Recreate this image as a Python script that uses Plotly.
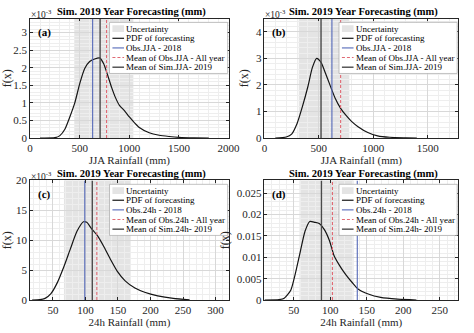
import numpy as np
import plotly.graph_objects as go

W, H = 474, 333

# ---------------- data ----------------
# (a) JJA rainfall: forecast PDF (density values in units of 1e-3)
jja_a_x = [100, 250, 300, 350, 400, 450, 500, 550, 600, 650, 700, 740, 780, 820,
           860, 900, 950, 1000, 1050, 1100, 1200, 1300, 1400, 1500, 1650, 1800]
jja_a_pdf = [0, 0.01, 0.07, 0.25, 0.6, 1.0, 1.55, 1.98, 2.18, 2.25, 2.28, 2.12, 1.8, 1.45,
             1.15, 0.93, 0.78, 0.6, 0.44, 0.3, 0.15, 0.08, 0.045, 0.02, 0.005, 0]
jja_a_band = [445, 1040]
jja_a_obs2018 = 630
jja_a_obsmean = 770
jja_a_simmean = 705

# (b) JJA rainfall, second station
jja_b_x = [100, 200, 250, 300, 350, 400, 440, 480, 520, 560, 600, 650, 700, 750,
           800, 860, 950, 1040, 1150, 1300, 1400]
jja_b_pdf = [0, 0.04, 0.15, 0.55, 1.2, 1.95, 2.65, 3.0, 2.85, 2.45, 2.02, 1.5, 1.12, 0.85,
             0.63, 0.43, 0.21, 0.085, 0.03, 0.01, 0]
jja_b_band = [315, 780]
jja_b_obs2018 = 620
jja_b_obsmean = 700
jja_b_simmean = 520

# (c) 24h maximum rainfall (density in units of 1e-3)
h24_c_x = [18, 30, 38, 47, 57, 67, 77, 87, 97, 102, 109, 119, 129, 139, 149, 161,
           176, 191, 211, 235, 260]
h24_c_pdf = [0, 0.05, 0.27, 1.07, 2.95, 5.6, 8.6, 11.5, 13.1, 13.0, 12.0, 10.7, 8.8, 6.7,
             4.8, 3.2, 2.0, 1.3, 0.7, 0.27, 0.03]
h24_c_band = [67, 169]
h24_c_obs2018 = 99
h24_c_obsmean = 117.5
h24_c_simmean = 110.5

# (d) 24h maximum rainfall, second station (density)
h24_d_x = [10, 30, 37, 46, 52, 59, 65.5, 72, 79, 85, 92, 99, 105, 112, 121, 130, 138,
           152, 169, 192, 218]
h24_d_pdf = [0, 0.0001, 0.0004, 0.0023, 0.006, 0.0113, 0.0161, 0.0184, 0.0182, 0.0179,
             0.0165, 0.0139, 0.0105, 0.0083, 0.006, 0.0041, 0.0026, 0.0014, 0.0006,
             0.0002, 0]
h24_d_band = [58, 132]
h24_d_obs2018 = 137
h24_d_obsmean = 103
h24_d_simmean = 88

panel_letters = ["(a)", "(b)", "(c)", "(d)"]
title_text = "Sim. 2019 Year Forecasting (mm)"
legend_labels_jja = ["Uncertainty", "PDF of forecasting", "Obs.JJA - 2018",
                     "Mean of Obs.JJA - All year", "Mean of Sim.JJA- 2019"]
legend_labels_24h = ["Uncertainty", "PDF of forecasting", "Obs.24h - 2018",
                     "Mean of Obs.24h - All year", "Mean of Sim.24h- 2019"]

# ---------------- styling ----------------
FONT = "Liberation Serif"
INK = "#262626"
BAND = "#e4e4e4"
C_PDF = "#151515"
C_OBS = "#5468b8"
C_OBSMEAN = "#e06a74"
C_SIMMEAN = "#4a4a4a"

# panel boxes in pixels: left, right, top, bottom
boxes = [(28, 233, 13, 137), (270, 470, 13, 137),
         (28, 233, 181, 305), (270, 470, 181, 305)]

panels = [
    dict(x=jja_a_x, y=np.array(jja_a_pdf) * 1e-3, band=jja_a_band, obs=jja_a_obs2018,
         obsmean=jja_a_obsmean, simmean=jja_a_simmean, xr=[0, 2000], xd=500, xm=100,
         yr=[0, 3.4e-3], yd=0.5e-3, ym=0.1e-3, scaled=True, xt="JJA Rainfall (mm)",
         labels=legend_labels_jja),
    dict(x=jja_b_x, y=np.array(jja_b_pdf) * 1e-3, band=jja_b_band, obs=jja_b_obs2018,
         obsmean=jja_b_obsmean, simmean=jja_b_simmean, xr=[0, 1780], xd=500, xm=100,
         yr=[0, 4.5e-3], yd=1e-3, ym=0.2e-3, scaled=True, xt="JJA Rainfall (mm)",
         labels=legend_labels_jja),
    dict(x=h24_c_x, y=np.array(h24_c_pdf) * 1e-3, band=h24_c_band, obs=h24_c_obs2018,
         obsmean=h24_c_obsmean, simmean=h24_c_simmean, xr=[15, 320], xd=50, xm=10,
         yr=[0, 0.02], yd=5e-3, ym=1e-3, scaled=True, xt="24h Rainfall (mm)",
         labels=legend_labels_24h),
    dict(x=h24_d_x, y=np.array(h24_d_pdf), band=h24_d_band, obs=h24_d_obs2018,
         obsmean=h24_d_obsmean, simmean=h24_d_simmean, xr=[10, 275], xd=50, xm=10,
         yr=[0, 0.028], yd=0.005, ym=0.001, scaled=False, xt="24h Rainfall (mm)",
         labels=legend_labels_24h),
]


def px_x(p):
    return p / W


def px_y(p):
    return 1 - p / H


fig = go.Figure()
layout = dict(width=W, height=H, margin=dict(l=0, r=0, t=0, b=0),
              paper_bgcolor="white", plot_bgcolor="white", showlegend=False,
              font=dict(family=FONT, size=11, color=INK))
shapes, annotations = [], []

for i, (p, box) in enumerate(zip(panels, boxes)):
    n = "" if i == 0 else str(i + 1)
    L, R, T, B = box
    xref, yref = "x" + n, "y" + n

    if p["scaled"]:
        tv = np.arange(0, p["yr"][1] + 1e-12, p["yd"])
        ytick = dict(tickmode="array", tickvals=tv,
                     ticktext=[f"{v * 1e3:g}" for v in tv])
    else:
        ytick = dict(dtick=p["yd"], tick0=0)

    common = dict(showline=True, linecolor=INK, linewidth=0.7, mirror="ticks",
                  ticks="inside", ticklen=3, tickwidth=0.6, tickcolor=INK,
                  showgrid=True, gridcolor="#d8d8d8", gridwidth=0.6, zeroline=False,
                  tickfont=dict(family=FONT, size=11, color=INK))
    minor_grid = dict(showgrid=True, gridcolor="#eeeeee", gridwidth=0.5)

    layout["xaxis" + n] = dict(domain=[px_x(L), px_x(R)], anchor=yref, range=p["xr"],
                               dtick=p["xd"], tick0=0,
                               minor=dict(dtick=p["xm"], tick0=0, **minor_grid),
                               title=dict(text=p["xt"], standoff=3,
                                          font=dict(family=FONT, size=11, color=INK)),
                               **common)
    layout["yaxis" + n] = dict(domain=[px_y(B), px_y(T)], anchor=xref, range=p["yr"],
                               minor=dict(dtick=p["ym"], tick0=0, **minor_grid),
                               title=dict(text="f(x)", standoff=4,
                                          font=dict(family=FONT, size=12, color=INK)),
                               **ytick, **common)

    # uncertainty band
    shapes.append(dict(type="rect", xref=xref, yref=yref + " domain",
                       x0=p["band"][0], x1=p["band"][1], y0=0, y1=1,
                       fillcolor=BAND, line=dict(width=0), layer="below"))

    ytop = p["yr"][1]
    fig.add_trace(go.Scatter(x=p["x"], y=p["y"], mode="lines", xaxis=xref, yaxis=yref,
                             line=dict(color=C_PDF, width=1.2, shape="spline",
                                       smoothing=0.6), hoverinfo="skip"))
    fig.add_trace(go.Scatter(x=[p["obs"], p["obs"]], y=[0, ytop], mode="lines",
                             xaxis=xref, yaxis=yref,
                             line=dict(color=C_OBS, width=1.1)))
    fig.add_trace(go.Scatter(x=[p["obsmean"], p["obsmean"]], y=[0, ytop], mode="lines",
                             xaxis=xref, yaxis=yref,
                             line=dict(color=C_OBSMEAN, width=1.1, dash="3px,2px")))
    fig.add_trace(go.Scatter(x=[p["simmean"], p["simmean"]], y=[0, ytop], mode="lines",
                             xaxis=xref, yaxis=yref,
                             line=dict(color=C_SIMMEAN, width=1.4)))

    # title, exponent marker and panel letter
    annotations.append(dict(xref="paper", yref="paper", x=px_x((L + R) / 2 + 2),
                            y=px_y(T - 7), xanchor="center", yanchor="middle",
                            text="<b>" + title_text + "</b>", showarrow=False,
                            font=dict(family=FONT, size=10.5, color="black")))
    if p["scaled"]:
        annotations.append(dict(xref="paper", yref="paper", x=px_x(L - 1),
                                y=px_y(T - 5), xanchor="left", yanchor="middle",
                                text="×10<sup>-3</sup>", showarrow=False,
                                font=dict(family=FONT, size=9.5, color=INK)))
    annotations.append(dict(xref="paper", yref="paper", x=px_x(L + 6), y=px_y(T + 15),
                            xanchor="left", yanchor="middle",
                            text="<b>" + panel_letters[i] + "</b>", showarrow=False,
                            font=dict(family=FONT, size=11, color="black")))

    # legend box (top right, opaque)
    lx0, lx1, ly0, ly1 = R - 123, R - 1, T + 4, T + 57
    shapes.append(dict(type="rect", xref="paper", yref="paper",
                       x0=px_x(lx0), x1=px_x(lx1), y0=px_y(ly1), y1=px_y(ly0),
                       fillcolor="white", line=dict(color="#9a9a9a", width=0.6),
                       layer="above"))
    styles = [None,
              dict(color=C_PDF, width=1.2),
              dict(color=C_OBS, width=1.1),
              dict(color=C_OBSMEAN, width=1.1, dash="3px,2px"),
              dict(color=C_SIMMEAN, width=1.4)]
    for k, lab in enumerate(p["labels"]):
        yc = ly0 + 6.5 + k * 10
        if styles[k] is None:
            shapes.append(dict(type="rect", xref="paper", yref="paper",
                               x0=px_x(lx0 + 3), x1=px_x(lx0 + 15),
                               y0=px_y(yc + 3.5), y1=px_y(yc - 3.5),
                               fillcolor=BAND, line=dict(width=0), layer="above"))
        else:
            shapes.append(dict(type="line", xref="paper", yref="paper",
                               x0=px_x(lx0 + 3), x1=px_x(lx0 + 15),
                               y0=px_y(yc), y1=px_y(yc), line=styles[k],
                               layer="above"))
        annotations.append(dict(xref="paper", yref="paper", x=px_x(lx0 + 15),
                                y=px_y(yc), xanchor="left", yanchor="middle",
                                text=lab, showarrow=False,
                                font=dict(family=FONT, size=9, color="black")))

layout["shapes"] = shapes
layout["annotations"] = annotations
fig.update_layout(**layout)
fig.write_html("out.html")
